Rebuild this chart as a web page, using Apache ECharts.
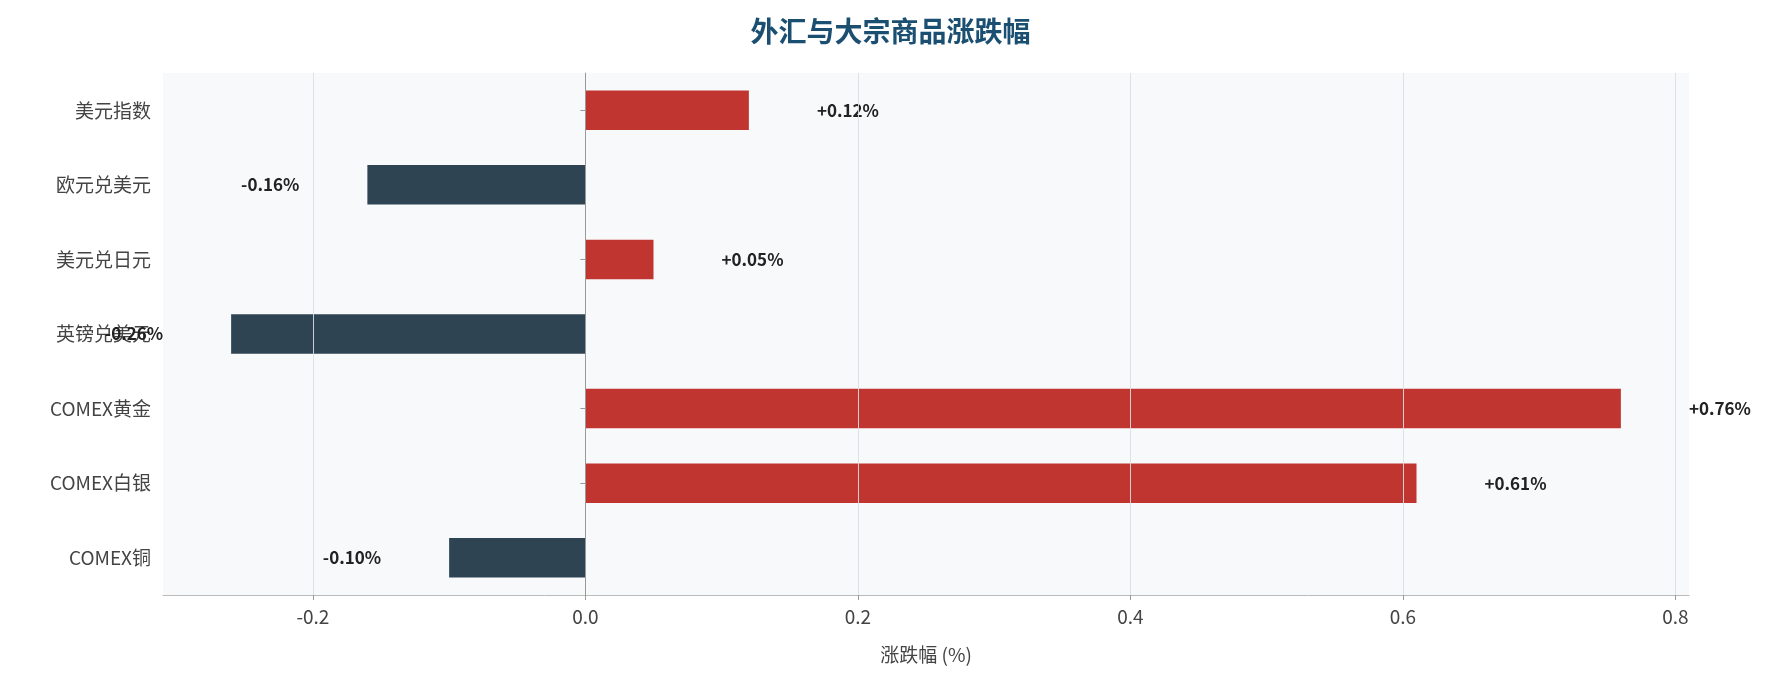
<!DOCTYPE html>
<html><head><meta charset="utf-8">
<script src="https://cdn.jsdelivr.net/npm/echarts@6/dist/echarts.min.js"></script>
<style>html,body{margin:0;background:#fff}#c{width:1781px;height:694px}</style>
</head><body><div id="c"></div>
<script>
const categories = ['美元指数','欧元兑美元','美元兑日元','英镑兑美元','COMEX黄金','COMEX白银','COMEX铜'];
const values = [0.12,-0.16,0.05,-0.26,0.76,0.61,-0.10];
const tickValues = [-0.2,0,0.2,0.4,0.6,0.8];
const chart = echarts.init(document.getElementById('c'));
const font = '"Noto Sans CJK SC","Noto Sans",sans-serif';
chart.setOption({
  title:{text:'外汇与大宗商品涨跌幅',left:'center',top:12,textStyle:{fontFamily:font,fontSize:28,fontWeight:'bold',color:'#1b4f72'}},
  grid:{left:163,right:92,top:73,bottom:99,show:true,backgroundColor:'#f8f9fb',borderWidth:0},
  xAxis:{type:'value',min:-0.31,max:0.81,
    name:'涨跌幅 (%)',nameLocation:'middle',nameGap:50,nameTextStyle:{fontFamily:font,fontSize:19,color:'#444'},
    axisLine:{show:true,lineStyle:{color:'#bbb'}},
    axisTick:{show:true,customValues:tickValues,lineStyle:{color:'#999'}},
    axisLabel:{customValues:tickValues,formatter:v=>v.toFixed(1),fontFamily:font,fontSize:19,color:'#444',margin:12},
    splitLine:{show:false}},
  yAxis:{type:'category',data:categories,inverse:true,
    axisLine:{show:true,lineStyle:{color:'#bbb'}},
    axisTick:{show:true,alignWithLabel:true,lineStyle:{color:'#999'}},
    axisLabel:{fontFamily:font,fontSize:19,color:'#444',margin:12},
    splitLine:{show:false}},
  series:[{type:'bar',barWidth:'53%',
    data:values.map(v=>({value:v,itemStyle:{color:v>=0?'#c13531':'#2e4453'},
      label:{show:true,position:v>=0?'right':'left',distance:68,
        formatter:(v>=0?'+':'')+v.toFixed(2)+'%',fontFamily:font,fontSize:17,fontWeight:'bold',color:'#222'}})),
    markLine:{silent:true,symbol:'none',label:{show:false},z:10,
      data:tickValues.map(t=>({xAxis:t,lineStyle:{color:t===0?'#999':'rgba(220,222,228,0.9)',width:1,type:'solid'}}))}
  }]
});
</script></body></html>
